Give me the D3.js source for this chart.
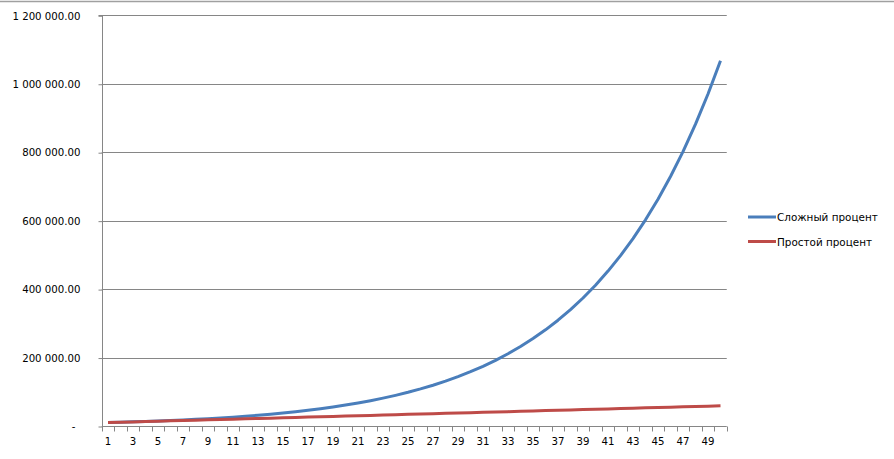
<!DOCTYPE html>
<html>
<head>
<meta charset="utf-8">
<script src="https://cdn.jsdelivr.net/npm/d3@7"></script>
<style>
  body { margin: 0; background: #fff; }
  text { font-family: "DejaVu Sans", Verdana, sans-serif; fill: #000; }
</style>
</head>
<body>
<svg id="chart" width="894" height="459"></svg>
<script>
// periods 1..50
var periods = d3.range(1, 51);

// Сложный процент
var compound = [10000, 11000, 12100, 13310, 14641, 16105, 17716, 19487, 21436, 23579,
	25937, 28531, 31384, 34523, 37975, 41772, 45950, 50545, 55599, 61159,
	67275, 74002, 81403, 89543, 98497, 108347, 119182, 131100, 144210, 158631,
	174494, 191943, 211138, 232252, 255477, 281024, 309127, 340039, 374043, 411448,
	452593, 497852, 547637, 602401, 662641, 728905, 801795, 881975, 970172, 1067190];

// Простой процент
var simple = [10000, 11000, 12000, 13000, 14000, 15000, 16000, 17000, 18000, 19000,
	20000, 21000, 22000, 23000, 24000, 25000, 26000, 27000, 28000, 29000,
	30000, 31000, 32000, 33000, 34000, 35000, 36000, 37000, 38000, 39000,
	40000, 41000, 42000, 43000, 44000, 45000, 46000, 47000, 48000, 49000,
	50000, 51000, 52000, 53000, 54000, 55000, 56000, 57000, 58000, 59000];

var y_ticks = [0, 200000, 400000, 600000, 800000, 1000000, 1200000];
var series_names = ["Сложный процент", "Простой процент"];
var series_colors = ["#4a7ebb", "#be4b48"];

var svg = d3.select("#chart");
var left = 101.75, right = 726.75, top_y = 15.3, bottom = 426;
var grid_color = "#868686";

var x_scale = d3.scaleBand().domain(periods).range([left, right]);
var y_scale = d3.scaleLinear().domain([0, 1200000]).range([bottom, top_y]);

// top border of the chart area
svg.append("line")
  .attr("x1", 0).attr("x2", 894).attr("y1", 1.5).attr("y2", 1.5)
  .style("stroke", "#a0a0a0").style("stroke-width", 1.5);

// gridlines
svg.append("g").selectAll("line")
  .data(y_ticks.slice(1))
  .enter().append("line")
  .attr("x1", left).attr("x2", right)
  .attr("y1", d => Math.round(y_scale(d)) + 0.5)
  .attr("y2", d => Math.round(y_scale(d)) + 0.5)
  .style("stroke", grid_color);

function fmt(v) {
	if (v === 0) return "-";
	return d3.format(",.2f")(v).replace(/,/g, " ");
}

// y axis
var y_axis = d3.axisLeft(y_scale).tickValues(y_ticks).tickSize(4).tickPadding(18).tickFormat(fmt);
var yg = svg.append("g")
  .attr("transform", "translate(" + (Math.round(left) + 0.5) + ",0.5)")
  .call(y_axis);
yg.select(".domain").style("stroke", grid_color).attr("d", "M-4," + Math.round(top_y) + "H0V" + Math.round(bottom));
yg.selectAll(".tick line").style("stroke", grid_color);
yg.selectAll(".tick text").style("font-size", "10.2px")
  .attr("dx", d => d === 0 ? -5 : 0);
yg.selectAll("text").style("font-family", "DejaVu Sans, Verdana, sans-serif");

// x axis: ticks between categories, labels on odd periods
var xg = svg.append("g").attr("transform", "translate(0," + (Math.round(bottom) + 0.5) + ")");
xg.append("line")
  .attr("x1", left).attr("x2", right)
  .style("stroke", grid_color);
xg.selectAll(".xtick")
  .data(periods.concat([51]))
  .enter().append("line")
  .attr("x1", d => Math.round(d <= 50 ? x_scale(d) : right) + 0.5)
  .attr("x2", d => Math.round(d <= 50 ? x_scale(d) : right) + 0.5)
  .attr("y1", 0).attr("y2", 5)
  .style("stroke", grid_color);
xg.selectAll(".xlabel")
  .data(periods.filter(d => d % 2 === 1))
  .enter().append("text")
  .attr("x", d => x_scale(d) + x_scale.bandwidth() / 2)
  .attr("y", 18)
  .attr("text-anchor", "middle")
  .style("font-size", "10.2px")
  .text(d => d);

// lines
var line = d3.line()
  .x((d, i) => x_scale(periods[i]) + x_scale.bandwidth() / 2)
  .y(d => y_scale(d));

[compound, simple].forEach(function(s, i) {
	svg.append("path")
	  .datum(s)
	  .attr("d", line)
	  .style("fill", "none")
	  .style("stroke", series_colors[i])
	  .style("stroke-width", 3)
	  .style("stroke-linejoin", "round");
});

// legend
var legend = svg.append("g").attr("transform", "translate(748,217)");
series_names.forEach(function(name, i) {
	var g = legend.append("g").attr("transform", "translate(0," + (i * 24.5) + ")");
	g.append("line")
	  .attr("x1", 0).attr("x2", 28)
	  .style("stroke", series_colors[i]).style("stroke-width", 3);
	g.append("text")
	  .attr("x", 29).attr("y", 4)
	  .style("font-size", "10.4px")
	  .text(name);
});
</script>
</body>
</html>
